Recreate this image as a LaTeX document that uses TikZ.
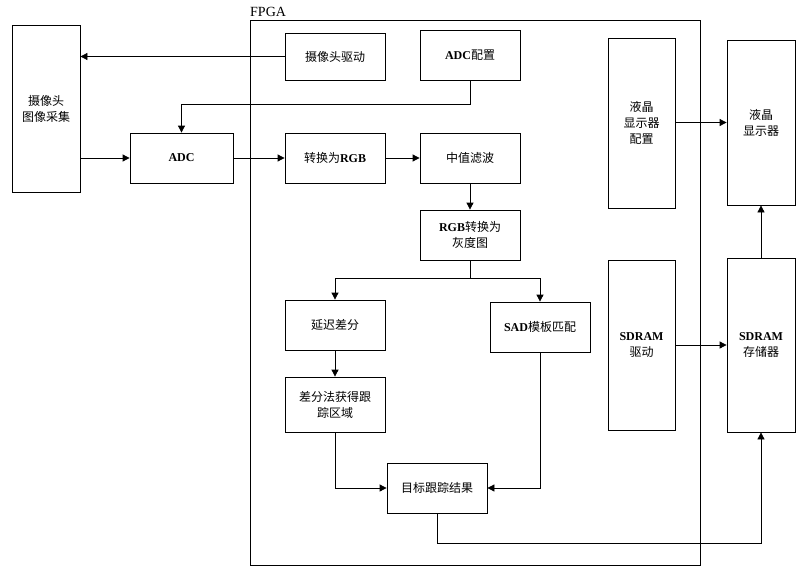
\documentclass[tikz,border=0pt]{standalone}
\usepackage{fontspec}
\setmainfont{Liberation Serif}
\newfontfamily\cjk{Noto Sans CJK SC}
\usetikzlibrary{arrows.meta,calc}
\tikzset{blk/.style={draw, thick, align=center, inner sep=1pt, font=\fontsize{12}{16}\selectfont},
  arr/.style={thick, -{Triangle[length=7pt,width=7pt]}}}
\newcommand{\zh}[1]{{\cjk #1}}
\begin{document}
\begin{tikzpicture}[x=1pt,y=-1pt]
  \useasboundingbox (0,0) rectangle (812,573);
  \draw[thick] (250,20) rectangle (700,565);
  \node[anchor=south west, inner sep=0, font=\fontsize{14}{14}\selectfont] (fpga) at (250,17) {FPGA};

  \node[blk, minimum width=68, minimum height=167] (cam) at (46,108.5) {\zh{摄像头}\\\zh{图像采集}};
  \node[blk, minimum width=100, minimum height=47] (drv) at (335,56.5) {\zh{摄像头驱动}};
  \node[blk, minimum width=100, minimum height=50] (adccfg) at (470,55) {\textbf{ADC}\zh{配置}};
  \node[blk, minimum width=103, minimum height=50] (adc) at (181.5,158) {\textbf{ADC}};
  \node[blk, minimum width=100, minimum height=50] (rgb) at (335,158) {\zh{转换为}\textbf{RGB}};
  \node[blk, minimum width=100, minimum height=50] (mid) at (470,158) {\zh{中值滤波}};
  \node[blk, minimum width=100, minimum height=50] (gray) at (470,235) {\textbf{RGB}\zh{转换为}\\\zh{灰度图}};
  \node[blk, minimum width=100, minimum height=50] (delay) at (335,325) {\zh{延迟差分}};
  \node[blk, minimum width=100, minimum height=50] (sad) at (540,327) {\textbf{SAD}\zh{模板匹配}};
  \node[blk, minimum width=100, minimum height=55] (diff) at (335,404.5) {\zh{差分法获得跟}\\\zh{踪区域}};
  \node[blk, minimum width=100, minimum height=50] (res) at (437,488) {\zh{目标跟踪结果}};
  \node[blk, minimum width=67, minimum height=170] (lcdcfg) at (641.5,123) {\zh{液晶}\\\zh{显示器}\\\zh{配置}};
  \node[blk, minimum width=67, minimum height=170] (sdrv) at (641.5,345) {\textbf{SDRAM}\\\zh{驱动}};
  \node[blk, minimum width=68, minimum height=165] (lcd) at (761,122.5) {\zh{液晶}\\\zh{显示器}};
  \node[blk, minimum width=68, minimum height=174] (mem) at (761,345) {\textbf{SDRAM}\\\zh{存储器}};

  \draw[arr] (drv.west) -- (drv.west -| cam.east);
  \draw[arr] (adccfg.south) |- ($(adc.north)+(0,-28)$) -- (adc.north);
  \draw[arr] (cam.east |- adc.west) -- (adc.west);
  \draw[arr] (adc) -- (rgb);
  \draw[arr] (rgb) -- (mid);
  \draw[arr] (mid) -- (gray);
  \draw[arr] (gray.south) -- ++(0,18) -| (delay.north);
  \draw[arr] (gray.south) -- ++(0,18) -| (sad.north);
  \draw[arr] (delay) -- (diff);
  \draw[arr] (diff.south) |- (res.west);
  \draw[arr] (sad.south) |- (res.east);
  \draw[arr] (res.south) -- ++(0,30) -| (mem.south);
  \draw[arr] (lcdcfg.east |- lcd.west) -- (lcd.west);
  \draw[arr] (sdrv.east) -- (mem.west);
  \draw[arr] (mem.north) -- (lcd.south);
\end{tikzpicture}
\end{document}
